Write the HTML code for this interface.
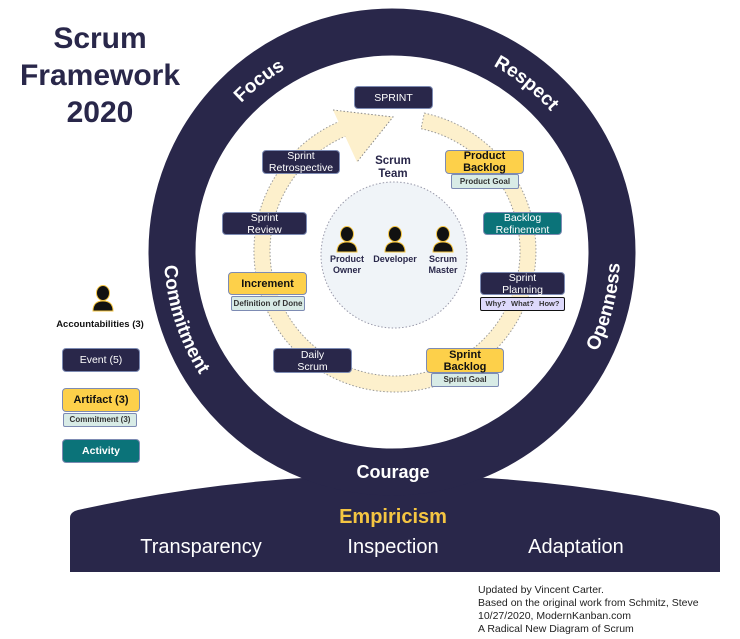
<!DOCTYPE html>
<html><head><meta charset="utf-8"><style>
body{margin:0;width:740px;height:639px;background:#fff;position:relative;overflow:hidden;font-family:"Liberation Sans",sans-serif}
.b{position:absolute;box-sizing:border-box;border:1px solid #7d8bb3;border-radius:4px;display:flex;align-items:center;justify-content:center;text-align:center;font-size:10.5px;line-height:12px;color:#fff;background:#29274a;white-space:nowrap}
.y{background:#fdd04a;color:#111;font-weight:bold;font-size:11px}
.g{background:#d8ebe6;color:#333;font-weight:bold;font-size:8px;border-radius:2px}
.t{background:#0b7379}
</style></head><body>
<svg width="740" height="639" style="position:absolute;left:0;top:0">
<defs>
<path id="cw" d="M392 40 A212 212 0 1 1 392 464 A212 212 0 1 1 392 40"/>
<path id="ccw" d="M392 24 A228 228 0 1 0 392 480 A228 228 0 1 0 392 24"/>
<g id="person"><ellipse cx="9" cy="8" rx="6.5" ry="7.5" fill="#111" stroke="#f4c542" stroke-width="1"/><path d="M-1 26 Q-1 16 9 16 Q19 16 19 26 Z" fill="#111" stroke="#f4c542" stroke-width="1"/></g>
</defs>
<path d="M70 572 L70 518 Q70 512 78 510 Q395 440 712 510 Q720 512 720 518 L720 572 Z" fill="#29274a"/>
<circle cx="392" cy="252" r="220" fill="none" stroke="#29274a" stroke-width="47"/>
<text x="393" y="478" fill="#fff" font-size="18" font-weight="bold" text-anchor="middle">Courage</text>
<text font-size="19" fill="#fff" font-weight="bold"><textPath href="#cw" startOffset="89.5%" text-anchor="middle">Focus</textPath></text>
<text font-size="19" fill="#fff" font-weight="bold"><textPath href="#cw" startOffset="10.7%" text-anchor="middle">Respect</textPath></text>
<text font-size="19" fill="#fff" font-weight="bold"><textPath href="#ccw" startOffset="30%" text-anchor="middle">Commitment</textPath></text>
<text font-size="19" fill="#fff" font-weight="bold"><textPath href="#ccw" startOffset="71%" text-anchor="middle">Openness</textPath></text>
<path d="M424.3 113.1 A141 141 0 1 1 339.9 121.2 L346.2 135.9 A125 125 0 1 0 421 128.7 Z" fill="#fdf0cc" stroke="#999" stroke-width="1" stroke-dasharray="1.5 2"/>
<path d="M333 110 L393 117 L357 162 Z" fill="#fdf0cc"/>
<path d="M333 110 L393 117 L357 162" fill="none" stroke="#888" stroke-width="1" stroke-dasharray="1.5 2"/>
<circle cx="394" cy="255" r="73" fill="#f0f4f8" stroke="#99a" stroke-width="1" stroke-dasharray="1.5 2"/>
<use href="#person" x="338" y="226"/>
<use href="#person" x="386" y="226"/>
<use href="#person" x="434" y="226"/>
<use href="#person" x="94" y="285"/>
<text x="393" y="164" fill="#29274a" font-size="11.5" font-weight="bold" text-anchor="middle">Scrum</text>
<text x="393" y="177" fill="#29274a" font-size="11.5" font-weight="bold" text-anchor="middle">Team</text>
<g fill="#29274a" font-size="9" font-weight="bold" text-anchor="middle">
<text x="347" y="262">Product</text><text x="347" y="273">Owner</text>
<text x="395" y="262">Developer</text>
<text x="443" y="262">Scrum</text><text x="443" y="273">Master</text>
</g>
<text x="100" y="327" fill="#111" font-size="9.5" font-weight="bold" text-anchor="middle">Accountabilities (3)</text>
<g font-size="30" fill="#29274a" font-weight="bold" text-anchor="middle">
<text x="100" y="48">Scrum</text><text x="100" y="85">Framework</text><text x="100" y="122">2020</text>
</g>
<text x="393" y="523" fill="#f4c542" font-size="20" font-weight="bold" text-anchor="middle">Empiricism</text>
<g fill="#fff" font-size="20" text-anchor="middle">
<text x="201" y="553">Transparency</text><text x="393" y="553">Inspection</text><text x="576" y="553">Adaptation</text>
</g>
<g fill="#222" font-size="10.5">
<text x="478" y="593">Updated by Vincent Carter.</text>
<text x="478" y="606">Based on the original work from Schmitz, Steve</text>
<text x="478" y="619">10/27/2020, ModernKanban.com</text>
<text x="478" y="632">A Radical New Diagram of Scrum</text>
</g>
</svg>
<div class="b" style="left:354px;top:86px;width:79px;height:23px">SPRINT</div>
<div class="b" style="left:262px;top:150px;width:78px;height:24px">Sprint<br>Retrospective</div>
<div class="b y" style="left:445px;top:150px;width:79px;height:24px">Product<br>Backlog</div>
<div class="b g" style="left:451px;top:174px;width:68px;height:15px">Product Goal</div>
<div class="b t" style="left:483px;top:212px;width:79px;height:23px">Backlog<br>Refinement</div>
<div class="b" style="left:222px;top:212px;width:85px;height:23px">Sprint<br>Review</div>
<div class="b y" style="left:228px;top:272px;width:79px;height:23px">Increment</div>
<div class="b g" style="left:231px;top:296px;width:74px;height:15px">Definition of Done</div>
<div class="b" style="left:480px;top:272px;width:85px;height:23px">Sprint<br>Planning</div>
<div class="b g" style="left:480px;top:297px;width:85px;height:14px;background:#ddd9fb;border-color:#111;word-spacing:3px;font-size:7.5px">Why? What? How?</div>
<div class="b" style="left:273px;top:348px;width:79px;height:25px">Daily<br>Scrum</div>
<div class="b y" style="left:426px;top:348px;width:78px;height:25px">Sprint<br>Backlog</div>
<div class="b g" style="left:431px;top:373px;width:68px;height:14px">Sprint Goal</div>
<div class="b" style="left:62px;top:348px;width:78px;height:24px">Event (5)</div>
<div class="b y" style="left:62px;top:388px;width:78px;height:24px">Artifact (3)</div>
<div class="b g" style="left:63px;top:413px;width:74px;height:14px">Commitment (3)</div>
<div class="b t" style="left:62px;top:439px;width:78px;height:24px;font-weight:bold">Activity</div>
</body></html>
